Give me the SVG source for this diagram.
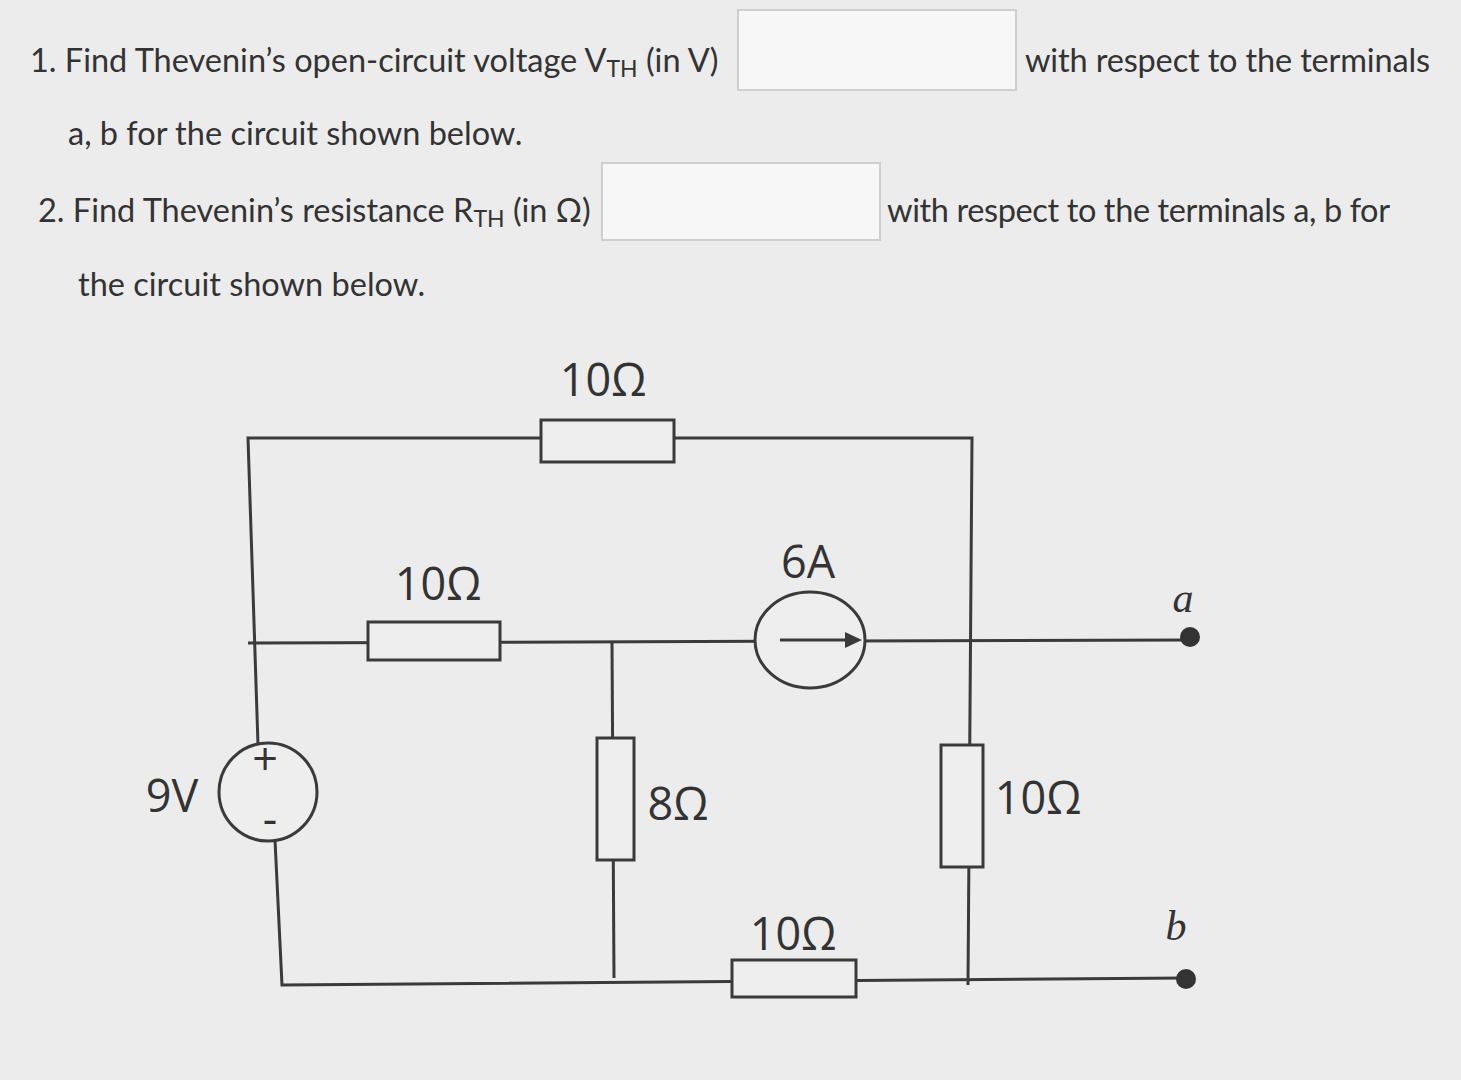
<svg xmlns="http://www.w3.org/2000/svg" width="1461" height="1080" viewBox="0 0 1461 1080">
<style>
.t{font-family:Lato,"Liberation Sans",sans-serif;fill:#333;font-size:32.5px}
.l{font-family:"Open Sans","Liberation Sans",sans-serif;fill:#333;font-size:45px}
.w{stroke:#3a3a3a;stroke-width:3;fill:none}
.r{stroke:#3a3a3a;stroke-width:3;fill:#eeeeee}
.in{stroke:#cfcfcf;stroke-width:2;fill:#f7f7f7}
.it{font-family:"Liberation Serif",serif;font-style:italic;fill:#333;font-size:42px}
</style>
<rect width="1461" height="1080" fill="#ececec"/>
<g id="text">
<text class="t" x="30" y="72">1. Find Thevenin’s open-circuit voltage V<tspan font-size="23" dy="5">TH</tspan><tspan dy="-5"> (in V)</tspan></text>
<rect class="in" x="738" y="10" width="278" height="80"/>
<text class="t" x="1025" y="72" textLength="405">with respect to the terminals</text>
<text class="t" x="68" y="145">a, b for the circuit shown below.</text>
<text class="t" x="38" y="222">2. Find Thevenin’s resistance R<tspan font-size="23" dy="5">TH</tspan><tspan dy="-5"> (in Ω)</tspan></text>
<rect class="in" x="602" y="163" width="278" height="77"/>
<text class="t" x="887" y="222" textLength="503">with respect to the terminals a, b for</text>
<text class="t" x="78" y="296">the circuit shown below.</text>
</g>
<g id="connectors">
<polyline class="w" points="258,745 248,438 972,438 968,985"/>
<line class="w" x1="248" y1="643" x2="1190" y2="640"/>
<line class="w" x1="612" y1="643" x2="614" y2="978"/>
<polyline class="w" points="275,840 282,985 1186,978"/>
</g>
<g id="R1"><rect class="r" x="541" y="420" width="133" height="42"/><text class="l" x="603" y="396" text-anchor="middle">10Ω</text></g>
<g id="R2"><rect class="r" x="368" y="622" width="132" height="38"/><text class="l" x="438" y="600" text-anchor="middle">10Ω</text></g>
<g id="I1"><ellipse class="r" cx="810" cy="640" rx="55" ry="48"/><line class="w" x1="780" y1="640" x2="848" y2="640"/><polygon points="862,640 845,632 845,648" fill="#3a3a3a"/><text class="l" x="808" y="578" text-anchor="middle">6A</text></g>
<g id="V1"><circle class="r" cx="268" cy="792" r="49"/><text class="l" x="265" y="775" text-anchor="middle" font-size="34">+</text><text class="l" x="270" y="835" text-anchor="middle" font-size="34">-</text><text class="l" x="172" y="812" text-anchor="middle">9V</text></g>
<g id="R3"><rect class="r" x="597" y="738" width="37" height="122"/><text class="l" x="678" y="820" text-anchor="middle">8Ω</text></g>
<g id="R4"><rect class="r" x="941" y="745" width="42" height="122"/><text class="l" x="1038" y="814" text-anchor="middle">10Ω</text></g>
<g id="R5"><rect class="r" x="732" y="960" width="124" height="37"/><text class="l" x="793" y="950" text-anchor="middle">10Ω</text></g>
<g id="a"><circle cx="1190" cy="637" r="10" fill="#333"/><text class="it" x="1183" y="612" text-anchor="middle">a</text></g>
<g id="b"><circle cx="1186" cy="979" r="10" fill="#333"/><text class="it" x="1176" y="940" text-anchor="middle">b</text></g>
</svg>
